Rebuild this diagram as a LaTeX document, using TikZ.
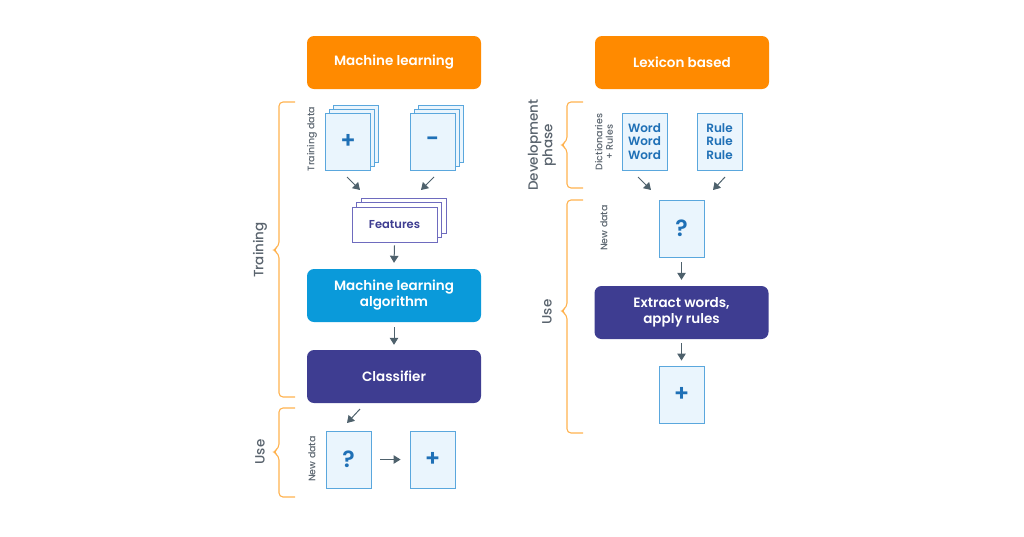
\documentclass[tikz,border=0pt]{standalone}
\usepackage{fontspec}
\setmainfont{Poppins}[BoldFont={Poppins SemiBold}]
\newfontfamily\medfont{Poppins Medium}
\usetikzlibrary{shadows,arrows.meta}
\definecolor{orng}{HTML}{FF8A00}
\definecolor{cyanb}{HTML}{0A9ADA}
\definecolor{purp}{HTML}{3E3D91}
\definecolor{featb}{HTML}{6E6BBE}
\definecolor{sheetf}{HTML}{EAF5FD}
\definecolor{sheetb}{HTML}{5AA7DD}
\definecolor{sym}{HTML}{1F70B6}
\definecolor{arr}{HTML}{4E616C}
\definecolor{brc}{HTML}{FFB24F}
\definecolor{lbl}{HTML}{5A646E}
\tikzset{
  bigbox/.style={rounded corners=7pt, minimum width=174pt, minimum height=53pt, inner sep=0pt, text=white, font=\fontsize{13.5}{16}\selectfont\bfseries, align=center},
  sheet/.style={draw=sheetb, fill=sheetf, line width=0.9pt, minimum width=45pt, minimum height=57pt, inner sep=0pt, text=sym, font=\fontsize{23}{24}\selectfont\bfseries},
  stacked/.style={double copy shadow={shadow xshift=4pt, shadow yshift=4pt, draw=sheetb, fill=sheetf, line width=0.9pt}},
  wordsheet/.style={sheet, align=center, font=\fontsize{12}{13.5}\selectfont\bfseries},
  flow/.style={draw=arr, line width=1pt, -{Triangle[length=7pt,width=8.5pt]}},
  brace/.style={draw=brc, line width=1.1pt, rounded corners=4pt},
  smalllbl/.style={text=lbl, font=\fontsize{9.5}{10.5}\selectfont\medfont, rotate=90, align=center, inner sep=0pt},
  biglbl/.style={text=lbl, font=\fontsize{13.5}{14.5}\selectfont\medfont, rotate=90, align=center, inner sep=0pt}
}
\begin{document}
\begin{tikzpicture}[x=1pt,y=-1pt]
\useasboundingbox (0,0) rectangle (1024,536);
% ---- left column
\node[bigbox, fill=orng] (ml) at (394,62.5) {Machine learning};
\node[sheet, stacked] (pos) at (348,141.5) {+};
\node[sheet, stacked] (neg) at (432.5,141.5) {-};
\node[smalllbl] (tdlbl) at (312,139) {Training data};
\node[draw=featb, fill=white, line width=0.9pt, minimum width=85pt, minimum height=35pt, inner sep=0pt, text=purp, font=\fontsize{11.5}{13}\selectfont\bfseries,
  double copy shadow={shadow xshift=4.5pt, shadow yshift=4.5pt, draw=featb, fill=white, line width=0.9pt}] (feat) at (394.5,224.5) {Features};
\node[bigbox, fill=cyanb] (alg) at (394,295.5) {Machine learning\\algorithm};
\node[bigbox, fill=purp] (cls) at (394,376.5) {Classifier};
\node[sheet] (q1) at (348.5,459.5) {?};
\node[sheet] (p1) at (432.5,459.5) {+};
\node[smalllbl] (nd1) at (312,459) {New data};
\coordinate (a1s) at (347,177); \coordinate (a1e) at (360,190);
\coordinate (a2s) at (434,177); \coordinate (a2e) at (421,190);
\draw[flow] (a1s) -- (a1e);
\draw[flow] (a2s) -- (a2e);
\draw[flow] ([yshift=-3pt]feat.south) -- ([yshift=6pt]alg.north);
\draw[flow] ([yshift=-5pt]alg.south) -- ([yshift=5pt]cls.north);
\coordinate (a3s) at (360,409); \coordinate (a3e) at (347,423);
\draw[flow] (a3s) -- (a3e);
\draw[flow] ([xshift=9pt]q1.east) -- ([xshift=-9pt]p1.west);
% braces left
\draw[brace] (295,102) -- (279,102) -- (279,246) -- (273,250) -- (279,254) -- (279,397) -- (295,397);
\draw[brace] (295,408) -- (279,408) -- (279,448) -- (273,452) -- (279,456) -- (279,497) -- (295,497);
\node[biglbl] (trl) at (260,250) {Training};
\node[biglbl] (usel) at (260,452) {Use};
% ---- right column
\node[bigbox, fill=orng] (lex) at (682,62.5) {Lexicon based};
\node[wordsheet] (word) at (644.5,141.5) {Word\\Word\\Word};
\node[wordsheet] (rule) at (719.5,141.5) {Rule\\Rule\\Rule};
\node[smalllbl] (dict) at (604,142) {Dictionaries\\+ Rules};
\node[biglbl] (dev) at (542,145) {Development\\phase};
\coordinate (b1s) at (638,177); \coordinate (b1e) at (651,190);
\coordinate (b2s) at (725,177); \coordinate (b2e) at (713,190);
\draw[flow] (b1s) -- (b1e);
\draw[flow] (b2s) -- (b2e);
\node[sheet] (q2) at (681.5,228.5) {?};
\node[smalllbl] (nd2) at (604,228) {New data};
\node[bigbox, fill=purp] (ext) at (681.5,312.5) {Extract words,\\apply rules};
\node[sheet] (p2) at (681.5,394.5) {+};
\draw[flow] ([yshift=-5pt]q2.south) -- ([yshift=6pt]ext.north);
\draw[flow] ([yshift=-4pt]ext.south) -- ([yshift=5pt]p2.north);
\draw[brace] (583,102) -- (567,102) -- (567,141) -- (561,145) -- (567,149) -- (567,188) -- (583,188);
\draw[brace] (583,200) -- (567,200) -- (567,307) -- (561,311) -- (567,315) -- (567,433) -- (583,433);
\node[biglbl] (usel2) at (547,312) {Use};
\end{tikzpicture}
\end{document}
